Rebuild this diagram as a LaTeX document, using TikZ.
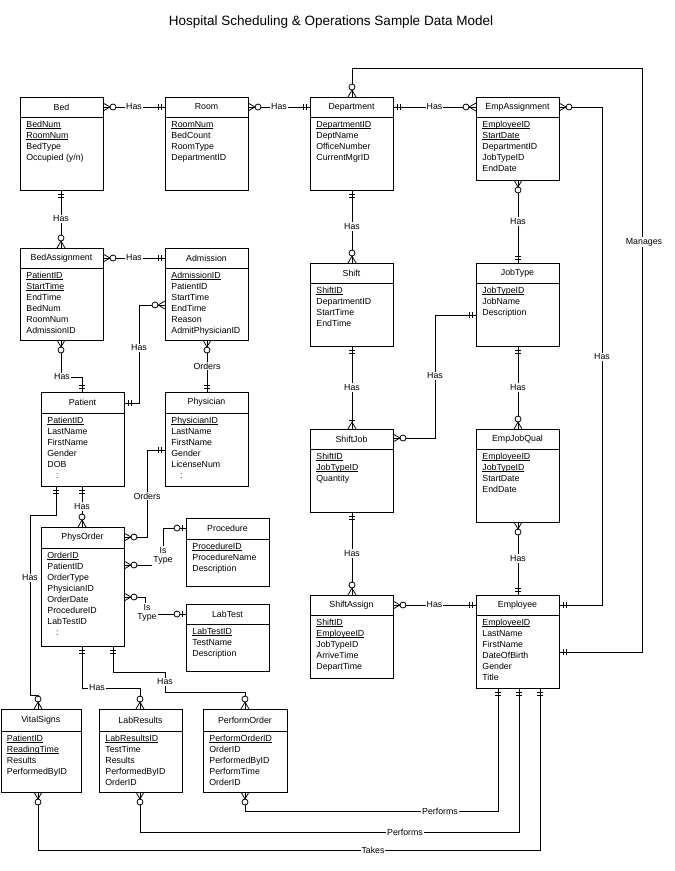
\documentclass[tikz,border=0pt]{standalone}
\usepackage{fontspec}
\setmainfont{Liberation Sans}
\begin{document}
\begin{tikzpicture}[x=1pt,y=-1pt,line width=0.8pt,
  attr/.style={anchor=north west,align=left,inner sep=0pt,font=\fontsize{8.8}{10.9}\selectfont},
  ttl/.style={anchor=center,inner sep=0pt,font=\fontsize{8.8}{10}\selectfont},
  lbl/.style={fill=white,inner sep=1pt,align=center,font=\fontsize{8.8}{9.5}\selectfont},
  box/.style={draw,rectangle,anchor=north west,inner sep=0pt,line width=0.8pt}]
\useasboundingbox (0,0) rectangle (675,871);
\newcommand\ent[8]{%
  \node[box,minimum width=#4pt,minimum height={(#6-#3)*1pt}] (#1) at (#2,#3) {};
  \draw (#2,#5) -- ({#2+#4},#5);
  \node[ttl] (#1t) at ({#2+#4/2},{(#3+#5)/2}) {#7};
  \node[attr] (#1a) at ({#2+6},{#5+4}) {#8};}
\newcommand\bars[4]{\draw ({#1+4*#3-3*#4},{#2+4*#4+3*#3}) -- ({#1+4*#3+3*#4},{#2+4*#4-3*#3}) ({#1+7*#3-3*#4},{#2+7*#4+3*#3}) -- ({#1+7*#3+3*#4},{#2+7*#4-3*#3});}
\newcommand\foot[4]{\draw ({#1-4*#4},{#2+4*#3}) -- ({#1+7*#3},{#2+7*#4}) -- ({#1+4*#4},{#2-4*#3});}
\newcommand\zmany[4]{\foot{#1}{#2}{#3}{#4}\draw[fill=white] ({#1+10*#3},{#2+10*#4}) circle (3pt);}
\newcommand\zone[4]{\draw ({#1+4*#3-3*#4},{#2+4*#4+3*#3}) -- ({#1+4*#3+3*#4},{#2+4*#4-3*#3});\draw[fill=white] ({#1+9*#3},{#2+9*#4}) circle (3pt);}
\newcommand\omany[4]{\foot{#1}{#2}{#3}{#4}\draw ({#1+9*#3-3*#4},{#2+9*#4+3*#3}) -- ({#1+9*#3+3*#4},{#2+9*#4-3*#3});}
\newcommand\ul[1]{{\setbox0\hbox{#1}\rlap{\rule[-1.3pt]{\wd0}{0.6pt}}\box0}}

\node[font=\fontsize{13.5}{15}\selectfont] (title) at (331,22) {Hospital Scheduling \& Operations Sample Data Model};

% connectors first
\draw (103,107) -- node[lbl]{Has} (165,107);
\draw (248,107) -- node[lbl]{Has} (310,107);
\draw (393,107) -- node[lbl]{Has} (476,107);
\draw (61,190) -- node[lbl]{Has} (61,248);
\draw (103,258) -- node[lbl]{Has} (165,258);
\draw (165,305) -- (139,305) -- (139,403) -- (124,403); \node[lbl] (l6) at (139,348) {Has};
\draw (61,340) -- (61,377) -- (82,377) -- (82,392); \node[lbl] (l7) at (62,377) {Has};
\draw (207,340) -- node[lbl]{Orders} (207,392);
\draw (165,450) -- (147,450) -- (147,537) -- (124,537); \node[lbl] (l9) at (147,496) {Orders};
\draw (82,486) -- node[lbl]{Has} (82,527);
\draw (56,486) -- (56,515) -- (30,515) -- (30,695) -- (38,695) -- (38,709); \node[lbl] (l11) at (30,578) {Has};
\draw (124,565) -- (163,565) -- (163,528) -- (186,528); \node[lbl] (l12) at (163,556) {Is\\Type};
\draw (124,597) -- (145,597) -- (145,614) -- (186,614); \node[lbl] (l13) at (147,613) {Is\\Type};
\draw (82,646) -- (82,688) -- (140,688) -- (140,709); \node[lbl] (l14) at (97,688) {Has};
\draw (113,646) -- (113,672) -- (165,672) -- (165,692) -- (245,692) -- (245,709); \node[lbl] (l15) at (165,682) {Has};
\draw (352,190) -- node[lbl]{Has} (352,263);
\draw (518,180) -- node[lbl]{Has} (518,263);
\draw (559,107) -- (602,107) -- (602,605) -- (559,605); \node[lbl] (l18) at (602,357) {Has};
\draw (352,97) -- (352,68) -- (642,68) -- (642,652) -- (559,652); \node[lbl] (l19) at (644,242) {Manages};
\draw (352,346) -- node[lbl]{Has} (352,429);
\draw (476,315) -- (435,315) -- (435,438) -- (393,438); \node[lbl] (l21) at (435,376) {Has};
\draw (518,346) -- node[lbl]{Has} (518,429);
\draw (352,512) -- node[lbl]{Has} (352,595);
\draw (518,522) -- node[lbl]{Has} (518,595);
\draw (393,605) -- node[lbl]{Has} (476,605);
\draw (245,792) -- (245,811) -- (498,811) -- (498,688); \node[lbl] (l26a) at (440,811) {Performs};
\draw (140,792) -- (140,832) -- (519,832) -- (519,688); \node[lbl] (l26b) at (405,832) {Performs};
\draw (38,792) -- (38,850) -- (540,850) -- (540,688); \node[lbl] (l26c) at (373,850) {Takes};

% entities
\ent{bed}{20}{97}{83}{117}{190}{Bed}{\ul{BedNum}\\\ul{RoomNum}\\BedType\\Occupied (y/n)}
\ent{room}{165}{97}{83}{117}{190}{Room}{\ul{RoomNum}\\BedCount\\RoomType\\DepartmentID}
\ent{dept}{310}{97}{83}{117}{190}{Department}{\ul{DepartmentID}\\DeptName\\OfficeNumber\\CurrentMgrID}
\ent{empa}{476}{97}{83}{117}{180}{EmpAssignment}{\ul{EmployeeID}\\\ul{StartDate}\\DepartmentID\\JobTypeID\\EndDate}
\ent{beda}{20}{248}{83}{268}{340}{BedAssignment}{\ul{PatientID}\\\ul{StartTime}\\EndTime\\BedNum\\RoomNum\\AdmissionID}
\ent{adm}{165}{248}{83}{268}{340}{Admission}{\ul{AdmissionID}\\PatientID\\StartTime\\EndTime\\Reason\\AdmitPhysicianID}
\ent{shift}{310}{263}{83}{283}{346}{Shift}{\ul{ShiftID}\\DepartmentID\\StartTime\\EndTime}
\ent{jobt}{476}{263}{83}{283}{346}{JobType}{\ul{JobTypeID}\\JobName\\Description}
\ent{pat}{41}{392}{83}{413}{486}{Patient}{\ul{PatientID}\\LastName\\FirstName\\Gender\\DOB\\\quad:}
\ent{phys}{165}{392}{83}{413}{486}{Physician}{\ul{PhysicianID}\\LastName\\FirstName\\Gender\\LicenseNum\\\quad:}
\ent{sjob}{310}{429}{83}{449}{512}{ShiftJob}{\ul{ShiftID}\\\ul{JobTypeID}\\Quantity}
\ent{ejq}{476}{429}{83}{449}{522}{EmpJobQual}{\ul{EmployeeID}\\\ul{JobTypeID}\\StartDate\\EndDate}
\ent{pord}{41}{527}{83}{548}{646}{PhysOrder}{\ul{OrderID}\\PatientID\\OrderType\\PhysicianID\\OrderDate\\ProcedureID\\LabTestID\\\quad:}
\ent{proc}{186}{518}{83}{539}{586}{Procedure}{\ul{ProcedureID}\\ProcedureName\\Description}
\ent{labt}{186}{604}{83}{624}{671}{LabTest}{\ul{LabTestID}\\TestName\\Description}
\ent{sasg}{310}{595}{83}{615}{678}{ShiftAssign}{\ul{ShiftID}\\\ul{EmployeeID}\\JobTypeID\\ArriveTime\\DepartTime}
\ent{emp}{476}{595}{83}{615}{688}{Employee}{\ul{EmployeeID}\\LastName\\FirstName\\DateOfBirth\\Gender\\Title}
\ent{vital}{0.5}{709}{80.5}{731}{792}{VitalSigns}{\ul{PatientID}\\\ul{ReadingTime}\\Results\\PerformedByID}
\ent{labr}{99}{709}{83}{731}{792}{LabResults}{\ul{LabResultsID}\\TestTime\\Results\\PerformedByID\\OrderID}
\ent{perf}{203}{709}{84}{731}{792}{PerformOrder}{\ul{PerformOrderID}\\OrderID\\PerformedByID\\PerformTime\\OrderID}

% markers
\zmany{103}{107}{1}{0} \bars{165}{107}{-1}{0}
\zmany{248}{107}{1}{0} \bars{310}{107}{-1}{0}
\bars{393}{107}{1}{0} \zmany{476}{107}{-1}{0}
\bars{61}{190}{0}{1} \zmany{61}{248}{0}{-1}
\zmany{103}{258}{1}{0} \bars{165}{258}{-1}{0}
\zmany{165}{305}{-1}{0} \bars{124}{403}{1}{0}
\zmany{61}{340}{0}{1} \bars{82}{392}{0}{-1}
\zmany{207}{340}{0}{1} \bars{207}{392}{0}{-1}
\bars{165}{450}{-1}{0} \zmany{124}{537}{1}{0}
\bars{82}{486}{0}{1} \zmany{82}{527}{0}{-1}
\bars{56}{486}{0}{1} \zmany{38}{709}{0}{-1}
\zmany{124}{565}{1}{0} \zone{186}{528}{-1}{0}
\zmany{124}{597}{1}{0} \zone{186}{614}{-1}{0}
\bars{82}{646}{0}{1} \zmany{140}{709}{0}{-1}
\bars{113}{646}{0}{1} \zmany{245}{709}{0}{-1}
\bars{352}{190}{0}{1} \zmany{352}{263}{0}{-1}
\zmany{518}{180}{0}{1} \bars{518}{263}{0}{-1}
\zmany{559}{107}{1}{0} \bars{559}{605}{1}{0}
\zmany{352}{97}{0}{-1} \bars{559}{652}{1}{0}
\bars{352}{346}{0}{1} \omany{352}{429}{0}{-1}
\bars{476}{315}{-1}{0} \zmany{393}{438}{1}{0}
\bars{518}{346}{0}{1} \zmany{518}{429}{0}{-1}
\bars{352}{512}{0}{1} \zmany{352}{595}{0}{-1}
\zmany{518}{522}{0}{1} \bars{518}{595}{0}{-1}
\zmany{393}{605}{1}{0} \bars{476}{605}{-1}{0}
\zmany{245}{792}{0}{1} \bars{498}{688}{0}{1}
\zmany{140}{792}{0}{1} \bars{519}{688}{0}{1}
\zmany{38}{792}{0}{1} \bars{540}{688}{0}{1}
\end{tikzpicture}
\end{document}
